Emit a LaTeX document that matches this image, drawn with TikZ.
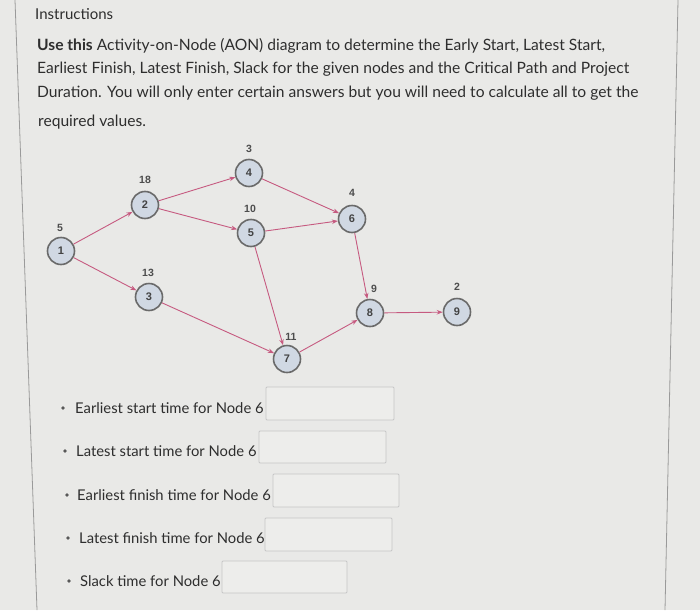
\documentclass[tikz,border=0pt]{standalone}
\usepackage{fontspec}
\setmainfont{Lato}
\setsansfont{Liberation Sans}
\usetikzlibrary{arrows.meta}
\definecolor{bg}{HTML}{E9E9E7}
\definecolor{frame}{HTML}{9A9A9A}
\definecolor{txt}{HTML}{2E2E2E}
\definecolor{nodefill}{HTML}{D0D8E3}
\definecolor{nodeline}{HTML}{6A6A6A}
\definecolor{edge}{HTML}{C65A80}
\definecolor{boxline}{HTML}{C6C6C6}
\definecolor{boxfill}{HTML}{EDEDEB}
\tikzset{
  aon/.style={circle, draw=nodeline, line width=1.6pt, fill=nodefill, minimum size=27pt, inner sep=0pt, font=\sffamily\bfseries\fontsize{11}{12}\selectfont, text=txt!90},
  dur/.style={font=\sffamily\bfseries\fontsize{10.5}{11}\selectfont, text=txt!85, inner sep=0pt},
  link/.style={draw=edge, line width=0.9pt, -{Stealth[length=6pt,width=4.5pt]}},
  para/.style={anchor=base west, inner sep=0pt, font=\fontsize{15.6}{18}\selectfont, text=txt},
  item/.style={anchor=base west, inner sep=0pt, font=\fontsize{14.8}{17}\selectfont, text=txt},
  dot/.style={circle, fill=txt!80, inner sep=0pt, minimum size=3.6pt},
  ansbox/.style={draw=boxline, fill=boxfill, line width=0.8pt, rounded corners=1pt}
}
\begin{document}
\begin{tikzpicture}[x=1pt,y=-1pt]
\useasboundingbox (0,0) rectangle (700,610);
\fill[bg] (0,0) rectangle (700,610);
\draw[frame, line width=0.8pt] (15,0) -- (37,610);
\draw[frame, line width=0.8pt] (678,0) -- (665,610);

% header text
\node[anchor=base west, inner sep=0pt, font=\fontsize{15}{17}\selectfont, text=txt] (title) at (35,20) {Instructions};
\node[para] (p1) at (37,50) {\textbf{Use this} Activity-on-Node (AON) diagram to determine the Early Start, Latest Start,};
\node[para] (p2) at (37,73) {Earliest Finish, Latest Finish, Slack for the given nodes and the Critical Path and Project};
\node[para] (p3) at (37,97) {Duration. You will only enter certain answers but you will need to calculate all to get the};
\node[para] (p4) at (38,126) {required values.};

% AON nodes
\node[aon] (n1) at (61,251) {1};
\node[aon] (n2) at (145,205) {2};
\node[aon] (n3) at (149,297) {3};
\node[aon] (n4) at (249,173) {4};
\node[aon] (n5) at (251,233) {5};
\node[aon] (n6) at (352,219) {6};
\node[aon] (n7) at (287,359) {7};
\node[aon] (n8) at (370,313) {8};
\node[aon] (n9) at (457,312) {9};

% durations
\node[dur] (d1) at (60,228) {5};
\node[dur] (d2) at (145,180) {18};
\node[dur] (d3) at (148,273) {13};
\node[dur] (d4) at (249,149) {3};
\node[dur] (d5) at (250,209) {10};
\node[dur] (d6) at (352,193) {4};
\node[dur] (d7) at (291,337) {11};
\node[dur] (d8) at (374,289) {9};
\node[dur] (d9) at (457,287) {2};

% connectors
\draw[link] (n1) -- (n2);
\draw[link] (n1) -- (n3);
\draw[link] (n2) -- (n4);
\draw[link] (n2) -- (n5);
\draw[link] (n4) -- (n6);
\draw[link] (n5) -- (n6);
\draw[link] (n5) -- (n7);
\draw[link] (n3) -- (n7);
\draw[link] (n6) -- (n8);
\draw[link] (n7) -- (n8);
\draw[link] (n8) -- (n9);

% questions
\node[dot] (b1) at (63,408) {};
\node[item] (q1) at (75,413) {Earliest start time for Node 6};
\draw[ansbox] (266,387) rectangle (394,420);
\node[dot] (b2) at (65,451) {};
\node[item] (q2) at (76,456) {Latest start time for Node 6};
\draw[ansbox] (259,431) rectangle (386,463);
\node[dot] (b3) at (67,495) {};
\node[item] (q3) at (77,500) {Earliest finish time for Node 6};
\draw[ansbox] (273,474) rectangle (399,507);
\node[dot] (b4) at (68,538) {};
\node[item] (q4) at (79,543) {Latest finish time for Node 6};
\draw[ansbox] (265,518) rectangle (392,551);
\node[dot] (b5) at (69,581) {};
\node[item] (q5) at (80,586) {Slack time for Node 6};
\draw[ansbox] (222,561) rectangle (347,593);
\end{tikzpicture}
\end{document}
